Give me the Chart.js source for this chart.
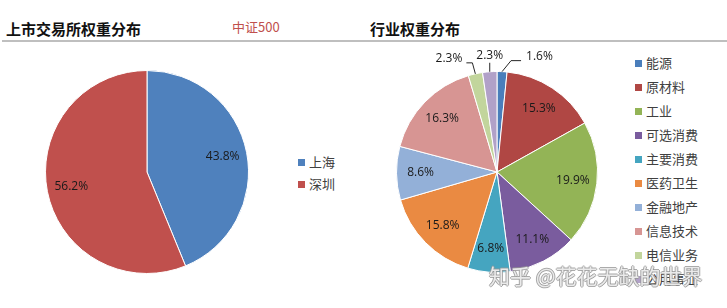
<!DOCTYPE html>
<html>
<head>
<meta charset="utf-8">
<script src="https://cdn.jsdelivr.net/npm/chart.js@4.4.0/dist/chart.umd.min.js"></script>
<style>
body { margin: 0; width: 727px; height: 308px; background: #fff; position: relative; overflow: hidden; font-family: "Noto Sans CJK SC", sans-serif; }
.title { position: absolute; top: 19px; line-height: 20px; font-size: 15px; font-weight: bold; color: #111; }
.sub { position: absolute; left: 232px; top: 18px; line-height: 18px; font-size: 13px; color: #c0504d; }
.rule { position: absolute; left: 2px; right: 0; top: 40px; height: 2px; background: #bfbfbf; }
canvas { position: absolute; }
.legend { position: absolute; font-size: 13px; color: #404040; }
.legend div { white-space: nowrap; }
.legend span { display: inline-block; width: 7px; height: 7px; margin-right: 4px; vertical-align: 1px; }
.mark { position: absolute; left: 489px; top: 262px; font-size: 21px; line-height: 26px; color: rgba(255,255,255,0.8);
        text-shadow: 1px 0 rgba(150,150,150,0.8), -1px 0 rgba(150,150,150,0.8), 0 1px rgba(150,150,150,0.8), 0 -1px rgba(150,150,150,0.8);
        white-space: nowrap; }
</style>
</head>
<body>
<div class="title" style="left:6px">上市交易所权重分布</div>
<div class="sub">中证500</div>
<div class="title" style="left:370px">行业权重分布</div>
<div class="rule"></div>

<canvas id="exchPie" width="204" height="204" style="left:45px;top:70px"></canvas>
<canvas id="indPie" width="240" height="260" style="left:377px;top:42px"></canvas>
<div class="legend" id="exchLegend" style="left:298px;top:151px;line-height:22px"></div>
<div class="legend" id="indLegend" style="left:635px;top:51px;line-height:24px"></div>
<div class="mark">知乎 @花花无缺的世界</div>

<script>
// 上市交易所权重分布
var exchLabels = ['上海', '深圳'];
var exchValues = [43.8, 56.2];
var exchColors = ['#4f81bd', '#c0504d'];

// 行业权重分布
var indLabels = ['能源', '原材料', '工业', '可选消费', '主要消费', '医药卫生', '金融地产', '信息技术', '电信业务', '公用事业'];
var indValues = [1.6, 15.3, 19.9, 11.1, 6.8, 15.8, 8.6, 16.3, 2.3, 2.3];
var indColors = ['#4a7ebb', '#b04744', '#93b456', '#7a5c9e', '#45a5c0', '#ea8a42', '#93b0d8', '#d79593', '#c2d59c', '#b1a1c8'];

// percent labels, small slices go outside with a leader line
var pieLabels = {
    id: 'pieLabels',
    afterDraw: function (chart) {
        var ctx = chart.ctx;
        var meta = chart.getDatasetMeta(0);
        var values = chart.data.datasets[0].data;
        ctx.save();
        ctx.font = '12px "Open Sans"';
        ctx.fillStyle = '#1a1a1a';
        ctx.strokeStyle = '#262626';
        ctx.lineWidth = 1;
        ctx.textBaseline = 'middle';
        meta.data.forEach(function (arc, i) {
            var p = arc.getProps(['x', 'y', 'startAngle', 'endAngle', 'outerRadius'], true);
            var mid = (p.startAngle + p.endAngle) / 2;
            var c = Math.cos(mid), s = Math.sin(mid);
            var txt = values[i].toFixed(1) + '%';
            if (values[i] >= 3) {
                ctx.textAlign = 'center';
                ctx.fillText(txt, p.x + c * p.outerRadius * 0.76, p.y + s * p.outerRadius * 0.76);
                return;
            }
            var ex = p.x + c * p.outerRadius, ey = p.y + s * p.outerRadius;
            var dx = ex - p.x;
            ctx.beginPath();
            ctx.moveTo(ex, ey);
            if (dx > 0) {
                ctx.lineTo(ex + 9, ey - 11);
                ctx.lineTo(ex + 19, ey - 11);
                ctx.stroke();
                ctx.textAlign = 'left';
                ctx.fillText(txt, ex + 24, ey - 15);
            } else if (dx < -0.15 * p.outerRadius) {
                ctx.lineTo(ex - 3, ey - 11);
                ctx.lineTo(ex - 9, ey - 11);
                ctx.stroke();
                ctx.textAlign = 'right';
                ctx.fillText(txt, ex - 13, ey - 15);
            } else {
                ctx.lineTo(ex, ey - 9);
                ctx.stroke();
                ctx.textAlign = 'center';
                ctx.fillText(txt, ex, ey - 16);
            }
        });
        ctx.restore();
    }
};

function makePie(id, labels, values, colors, padding) {
    return new Chart(document.getElementById(id).getContext('2d'), {
        type: 'pie',
        data: {
            labels: labels,
            datasets: [{
                data: values,
                backgroundColor: colors,
                borderColor: '#ffffff',
                borderWidth: 1,
                hoverOffset: 0
            }]
        },
        options: {
            responsive: false,
            animation: false,
            devicePixelRatio: 1,
            layout: { padding: padding },
            plugins: {
                legend: { display: false },
                tooltip: { enabled: false }
            }
        },
        plugins: [pieLabels]
    });
}

function makeLegend(id, labels, colors) {
    var box = document.getElementById(id);
    labels.forEach(function (name, i) {
        var row = document.createElement('div');
        var sw = document.createElement('span');
        sw.style.background = colors[i];
        row.appendChild(sw);
        row.appendChild(document.createTextNode(name));
        box.appendChild(row);
    });
}

makePie('exchPie', exchLabels, exchValues, exchColors, 0);
makePie('indPie', indLabels, indValues, indColors, { left: 19, right: 19, top: 29, bottom: 29 });
makeLegend('exchLegend', exchLabels, exchColors);
makeLegend('indLegend', indLabels, indColors);
</script>
</body>
</html>
